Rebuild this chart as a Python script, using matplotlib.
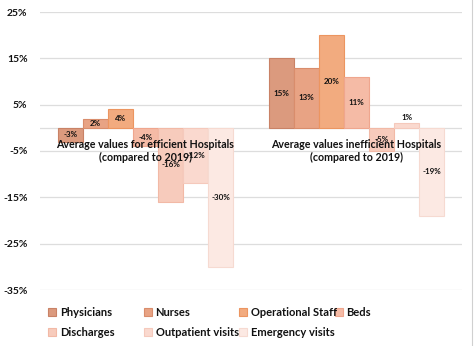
import matplotlib.pyplot as plt
from matplotlib.patches import Rectangle
from matplotlib import font_manager
import numpy as np

# data
groups = ['Average values for efficient Hospitals\n(compared to 2019)',
          'Average values inefficient Hospitals\n(compared to 2019)']
series = ['Physicians', 'Nurses', 'Operational Staff', 'Beds',
          'Discharges', 'Outpatient visits', 'Emergency visits']
efficient = [-3, 2, 4, -4, -16, -12, -30]
inefficient = [15, 13, 20, 11, -5, 1, -19]

fills = ['#DB9A7E', '#E8A384', '#F2AB7F', '#F5BBA6', '#F7CBBC', '#FAD9CF', '#FCE9E3']
edges = ['#C98266', '#D98D6C', '#EC9560', '#EFA68E', '#F2B9A6', '#F5C9BC', '#F6DAD1']

# pick a family that really has a bold face
fam = 'DejaVu Sans'
for cand in ['Lato', 'Open Sans', 'Liberation Sans']:
    try:
        f = font_manager.findfont(font_manager.FontProperties(family=cand, weight='bold'),
                                  fallback_to_default=False)
        if 'bold' in f.lower() or 'black' in f.lower() or 'heavy' in f.lower():
            fam = cand
            break
    except Exception:
        pass
plt.rcParams['font.family'] = [fam, 'DejaVu Sans']
plt.rcParams['font.weight'] = 'bold'
txt = '#111111'

fig = plt.figure(figsize=(4.74, 3.46), dpi=100)
ax = fig.add_axes([40/474, 1-290/346, 422/474, 278/346])

x = np.arange(len(groups))
w = 0.83/len(series)
for i, name in enumerate(series):
    vals = [efficient[i], inefficient[i]]
    pos = x + (i-3)*w
    ax.bar(pos, vals, w, color=fills[i], edgecolor=edges[i], linewidth=0.8, zorder=2)
    for xp, v in zip(pos, vals):
        yp = v/2 if abs(v) > 1.5 else v + 1.3
        ax.text(xp, yp, f'{v}%', ha='center', va='center', fontsize=5.8,
                fontweight='bold', color=txt, zorder=4)

for xi, g in zip(x, groups):
    ax.text(xi, -2.4, g, ha='center', va='top', fontsize=7.7, fontweight='bold',
            color=txt, linespacing=1.2, zorder=5)

ax.set_xlim(-0.5, 1.5)
ax.set_ylim(-35, 25)
yt = [25, 15, 5, -5, -15, -25, -35]
ax.set_yticks(yt)
ax.set_yticklabels([f'{t}%' for t in yt], fontsize=7.5, fontweight='bold', color=txt)
ax.tick_params(axis='y', length=0, pad=9)
ax.set_xticks([])
ax.grid(axis='y', color='#DDDDDD', linewidth=0.9, zorder=0)
ax.axhline(0, color='#DDDDDD', linewidth=0.9, zorder=1)
for s in ax.spines.values():
    s.set_visible(False)

# legend laid out like the Excel one: 4 equal columns, row by row
for k, name in enumerate(series):
    r, c = divmod(k, 4)
    px = 48 + c*95.5
    py = 312 + r*20
    fig.add_artist(Rectangle((px/474, 1-(py+4)/346), 8/474, 8/346,
                             facecolor=fills[k], edgecolor=edges[k], linewidth=0.8,
                             transform=fig.transFigure))
    fig.text((px+12)/474, 1-py/346, name, ha='left', va='center', fontsize=8,
             fontweight='bold', color=txt)

fig.add_artist(plt.Line2D([472/474, 472/474], [0, 1], color='#D0D0D0', linewidth=0.8,
                          transform=fig.transFigure))

fig.savefig('out.png', dpi=100)
